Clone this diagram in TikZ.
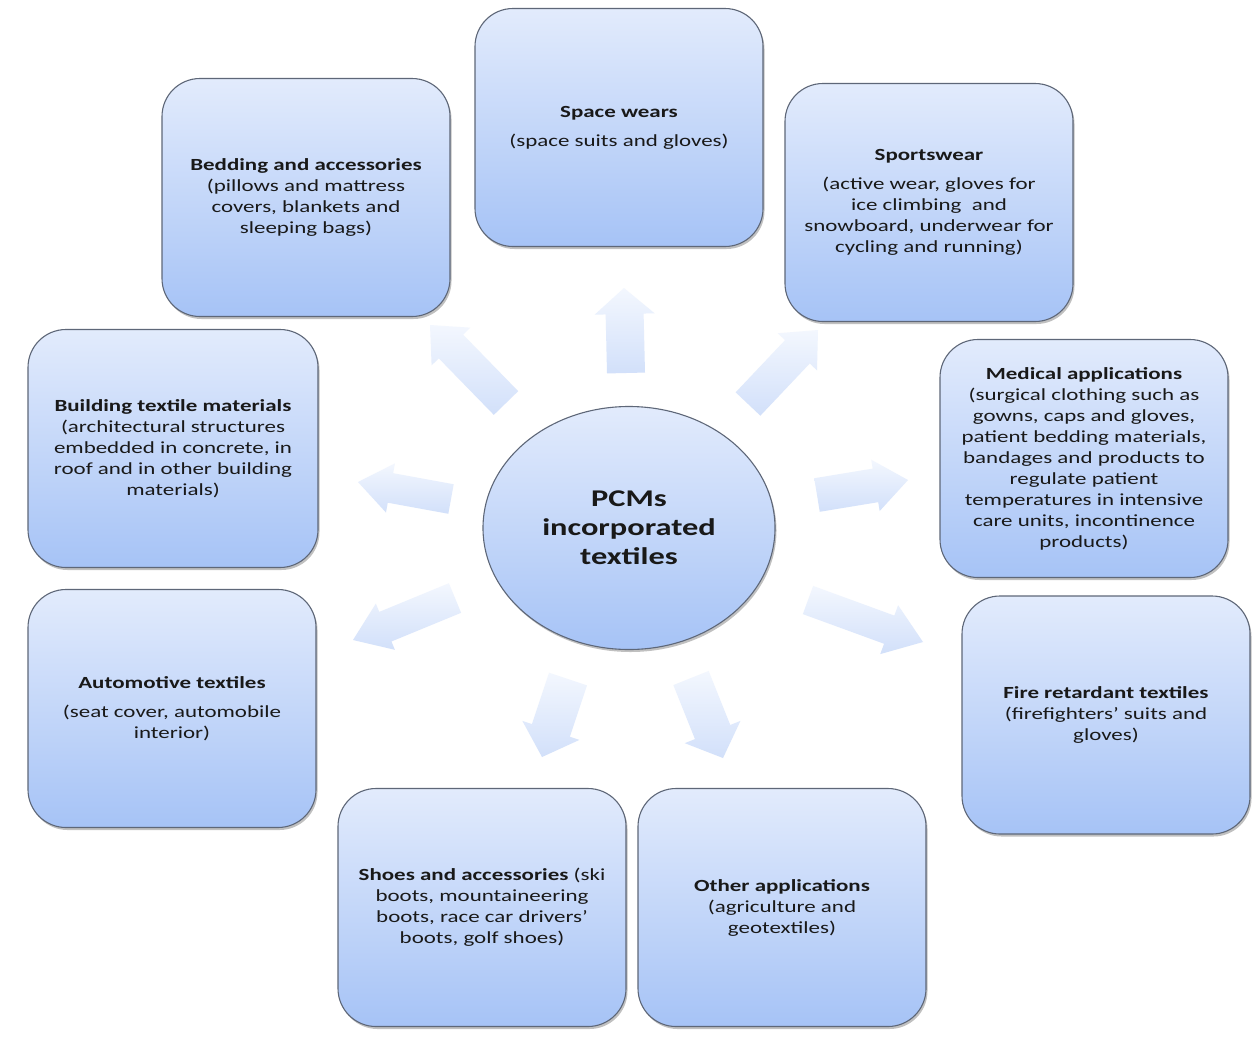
\documentclass[tikz,border=0pt]{standalone}
\usepackage{fontspec}
\setmainfont{Carlito}[FakeStretch=1.35]
\usetikzlibrary{calc,shapes.geometric,shadows}
\definecolor{boxtop}{HTML}{E2EBFC}
\definecolor{boxbot}{HTML}{A6C3F6}
\definecolor{boxline}{HTML}{5E6778}
\definecolor{arrtop}{HTML}{F3F7FE}
\definecolor{arrbot}{HTML}{D2E0FA}
\newcommand\blockarrow[5]{%
  \coordinate (#1h) at ($(#2)!#5!(#1)$);
  \path[arrowshape] ($(#1)!#3!90:(#2)$) -- ($(#1h)!#3!90:(#2)$) -- ($(#1h)!#4!90:(#2)$) -- (#2)
    -- ($(#1h)!#4!-90:(#2)$) -- ($(#1h)!#3!-90:(#2)$) -- ($(#1)!#3!-90:(#2)$) -- cycle;}
\begin{document}
\begin{tikzpicture}[x=1pt,y=-1pt,
  appbox/.style={rectangle,rounded corners=38pt,minimum width=288pt,minimum height=238pt,
    top color=boxtop,bottom color=boxbot,draw=boxline,line width=1.1pt,
    drop shadow={shadow xshift=1.5pt,shadow yshift=-2.5pt,fill=black!70,opacity=.35},
    align=center,inner sep=4pt,font=\fontsize{17}{21}\selectfont,text=black!90},
  hub/.style={ellipse,minimum width=292pt,minimum height=243pt,
    top color=boxtop,bottom color=boxbot,draw=boxline,line width=1.1pt,
    drop shadow={shadow xshift=1.5pt,shadow yshift=-2.5pt,fill=black!70,opacity=.35},
    align=center,font=\fontsize{24}{29}\selectfont\bfseries,text=black!90},
  arrowshape/.style={top color=arrtop,bottom color=arrbot}]
\useasboundingbox[fill=white] (0,0) rectangle (1260,1050);

% block arrows radiating from the hub
\coordinate (t1) at (626,373); \coordinate (p1) at (624,288);
\coordinate (t2) at (506,403); \coordinate (p2) at (430,325);
\coordinate (t3) at (748,404); \coordinate (p3) at (818,330);
\coordinate (t4) at (817,495); \coordinate (p4) at (908,480);
\coordinate (t5) at (808,600); \coordinate (p5) at (923,642);
\coordinate (t6) at (451,499); \coordinate (p6) at (358,482);
\coordinate (t7) at (455,598); \coordinate (p7) at (353,640);
\coordinate (t8) at (568,679); \coordinate (p8) at (542,757);
\coordinate (t9) at (691,678); \coordinate (p9) at (723,758);
\blockarrow{t1}{p1}{19pt}{30pt}{26pt}
\blockarrow{t2}{p2}{17pt}{27pt}{30pt}
\blockarrow{t3}{p3}{17pt}{27pt}{30pt}
\blockarrow{t4}{p4}{17pt}{26pt}{33pt}
\blockarrow{t5}{p5}{15pt}{26pt}{36pt}
\blockarrow{t6}{p6}{15pt}{25pt}{33pt}
\blockarrow{t7}{p7}{16pt}{25pt}{35pt}
\blockarrow{t8}{p8}{20pt}{30pt}{28pt}
\blockarrow{t9}{p9}{19pt}{30pt}{28pt}

\node[hub] (hub) at (629,528) {PCMs\\incorporated\\textiles};

\node[appbox] (space) at (619,127.5) {\textbf{Space wears}\\[8pt](space suits and gloves)};
\node[appbox] (bedding) at (306,197.5) {\textbf{Bedding and accessories}\\(pillows and mattress\\covers, blankets and\\sleeping bags)};
\node[appbox] (sports) at (929,202.5) {\textbf{Sportswear}\\[8pt](active wear, gloves for\\ice climbing~ and\\snowboard, underwear for\\cycling and running)};
\node[appbox,minimum width=290pt] (building) at (173,448.5) {\textbf{Building textile materials}\\(architectural structures\\embedded in concrete, in\\roof and in other building\\materials)};
\node[appbox] (medical) at (1084,458.5) {\textbf{Medical applications}\\(surgical clothing such as\\gowns, caps and gloves,\\patient bedding materials,\\bandages and products to\\regulate patient\\temperatures in intensive\\care units, incontinence\\products)};
\node[appbox] (auto) at (172,708.5) {\textbf{Automotive textiles}\\[8pt](seat cover, automobile\\interior)};
\node[appbox] (fire) at (1106,715) {\textbf{Fire retardant textiles}\\(firefighters’ suits and\\gloves)};
\node[appbox] (shoes) at (482,907.5) {\textbf{Shoes and accessories} (ski\\boots, mountaineering\\boots, race car drivers’\\boots, golf shoes)};
\node[appbox] (other) at (782,907.5) {\textbf{Other applications}\\(agriculture and\\geotextiles)};
\end{tikzpicture}
\end{document}
